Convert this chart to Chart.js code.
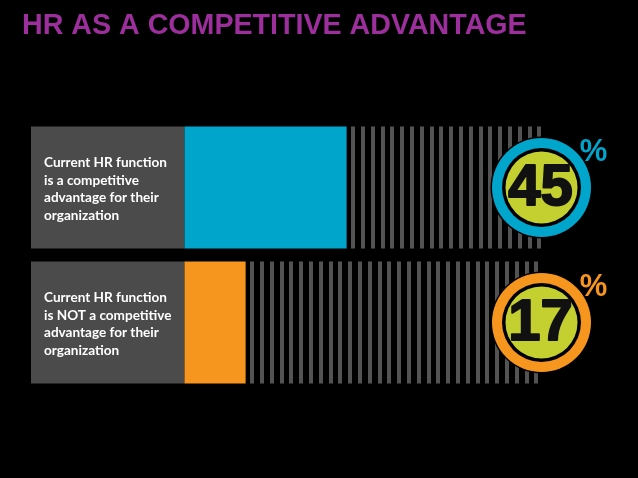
<!DOCTYPE html>
<html>
<head>
<meta charset="utf-8">
<script src="https://cdn.jsdelivr.net/npm/chart.js@4.4.1/dist/chart.umd.min.js"></script>
<style>
  html, body { margin: 0; padding: 0; background: #000; }
  #wrap { width: 638px; height: 478px; }
</style>
</head>
<body>
<div id="wrap"><canvas id="hr"></canvas></div>
<script>
'use strict';
// chart data
var title = 'HR AS A COMPETITIVE ADVANTAGE';
var categories = [
    [ 'Current HR function', 'is a competitive', 'advantage for their', 'organization' ],
    [ 'Current HR function', 'is NOT a competitive', 'advantage for their', 'organization' ]
];
var values = [ 45, 17 ];
var barColors = [ '#00a5cc', '#f6961e' ];
var boxStart = -42.5; // where the grey label box begins on the value scale
var scaleMax = 100;

// fit a font size so that text gets a given width
function fitSize( ctx, text, weight, family, width ) {
    ctx.font = weight + ' 100px ' + family;
    return 100 * width / ctx.measureText( text ).width;
}

var decoPlugin = {
    id: 'deco',
    beforeDatasetsDraw: function( chart ) {
        var ctx = chart.ctx;
        // stripes on the remainder bars
        var meta = chart.getDatasetMeta( 2 );
        ctx.save();
        ctx.fillStyle = '#535353';
        meta.data.forEach( function( bar ) {
            var top = bar.y - bar.height / 2;
            for( var x = bar.base + 4.5; x + 4 <= bar.x - 2; x += 9.8 ) {
                ctx.fillRect( Math.round( x ), top, 4, bar.height );
            }
        });
        ctx.restore();
    },
    afterDatasetsDraw: function( chart ) {
        var ctx = chart.ctx;
        var boxMeta = chart.getDatasetMeta( 0 );
        var endX = chart.scales.x.getPixelForValue( scaleMax );
        ctx.save();

        // title
        var ts = fitSize( ctx, title, 'bold', '"Liberation Sans", Arial, sans-serif', 505 );
        ctx.font = 'bold ' + ts + 'px "Liberation Sans", Arial, sans-serif';
        ctx.fillStyle = '#9d2f9d';
        ctx.textBaseline = 'alphabetic';
        ctx.textAlign = 'left';
        ctx.fillText( title, 22, 34 );

        // label texts inside the grey boxes
        var ls = fitSize( ctx, categories[ 0 ][ 0 ], 'bold', 'Lato, sans-serif', 123 );
        ctx.font = 'bold ' + ls + 'px Lato, sans-serif';
        ctx.fillStyle = '#ffffff';
        boxMeta.data.forEach( function( box, i ) {
            var lines = categories[ i ];
            var left = Math.min( box.x, box.base ) + 13;
            var first = box.y - 20.5;
            lines.forEach( function( line, k ) {
                ctx.fillText( line, left, first + k * 17.7 );
            });
        });

        // percentage badges
        boxMeta.data.forEach( function( box, i ) {
            var cx = endX - 3.5, cy = box.y;
            ctx.beginPath(); ctx.arc( cx, cy, 51, 0, Math.PI * 2 ); ctx.fillStyle = '#000'; ctx.fill();
            ctx.beginPath(); ctx.arc( cx, cy, 49.5, 0, Math.PI * 2 ); ctx.fillStyle = barColors[ i ]; ctx.fill();
            ctx.beginPath(); ctx.arc( cx, cy, 39.5, 0, Math.PI * 2 ); ctx.fillStyle = '#000'; ctx.fill();
            ctx.beginPath(); ctx.arc( cx, cy, 36, 0, Math.PI * 2 ); ctx.fillStyle = '#c3d02f'; ctx.fill();

            ctx.fillStyle = '#111';
            ctx.strokeStyle = '#111';
            ctx.lineWidth = 2;
            ctx.lineJoin = 'round';
            ctx.font = 'bold 58px "Liberation Sans", Arial, sans-serif';
            ctx.textAlign = 'center';
            ctx.textBaseline = 'middle';
            ctx.fillText( String( values[ i ] ), cx - 1, cy + 1 );
            ctx.strokeText( String( values[ i ] ), cx - 1, cy + 1 );

            ctx.fillStyle = barColors[ i ];
            ctx.font = 'bold 31px "Liberation Sans", Arial, sans-serif';
            ctx.fillText( '%', cx + 52, cy - 35 );
        });
        ctx.restore();
    }
};

var ctx = document.getElementById( 'hr' ).getContext( '2d' );
var chart = new Chart( ctx, {
    type: 'bar',
    data: {
        labels: categories,
        datasets: [
            {
                label: 'box',
                data: values.map( function() { return [ boxStart, 0 ]; } ),
                backgroundColor: '#4b4b4b'
            },
            {
                label: 'share',
                data: values.map( function( v ) { return [ 0, v ]; } ),
                backgroundColor: barColors
            },
            {
                label: 'rest',
                data: values.map( function( v ) { return [ v, scaleMax ]; } ),
                backgroundColor: 'rgba(0,0,0,0)'
            }
        ]
    },
    options: {
        indexAxis: 'y',
        responsive: true,
        maintainAspectRatio: false,
        animation: false,
        grouped: false,
        barPercentage: 0.904,
        categoryPercentage: 1,
        layout: { padding: { left: 31, right: 93, top: 120, bottom: 88 } },
        scales: {
            x: { display: false, min: boxStart, max: scaleMax },
            y: { display: false }
        },
        plugins: {
            legend: { display: false },
            tooltip: { enabled: false }
        }
    },
    plugins: [ decoPlugin ]
});
</script>
</body>
</html>
